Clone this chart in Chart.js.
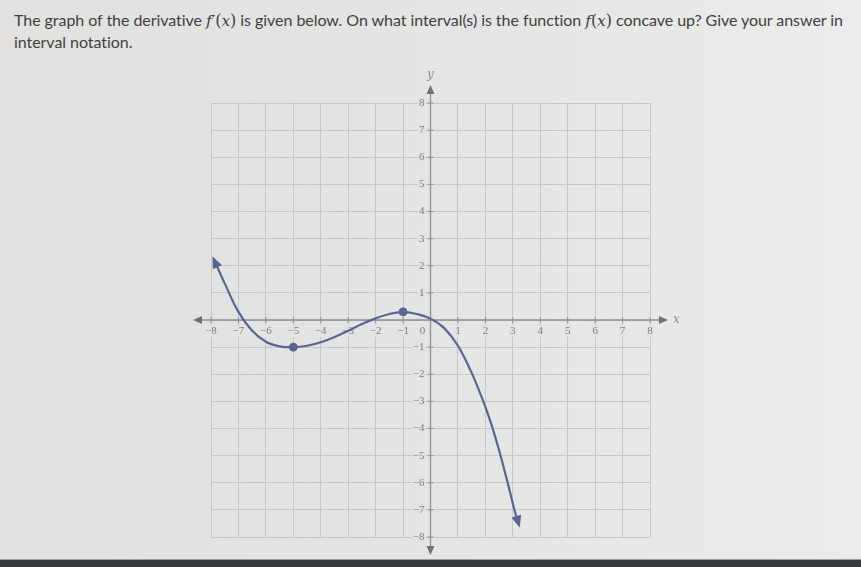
<!DOCTYPE html>
<html><head><meta charset="utf-8">
<script src="https://cdn.jsdelivr.net/npm/chart.js@4.4.1/dist/chart.umd.min.js"></script>
<style>
html,body{margin:0;padding:0;width:861px;height:567px;overflow:hidden;}
body{position:relative;background:linear-gradient(90deg,#e1e2e0 0%,#e4e5e3 40%,#e8e9e7 75%,#ecedeb 100%);font-family:Lato,"Open Sans",sans-serif;}
#q{position:absolute;left:14px;top:10px;width:845px;font-size:16px;line-height:20.5px;color:#3f4042;white-space:nowrap;letter-spacing:-0.05px;}
#q .m{font-family:"DejaVu Serif","Liberation Serif",serif;font-style:italic;font-size:15.5px;}
#q .b{font-family:"DejaVu Serif",serif;font-size:16px;}
#c{position:absolute;left:0;top:0;}
#bar{position:absolute;left:0;bottom:0;width:861px;height:7px;background:#34383c;border-top:1px solid #9a9d9f;}
</style></head>
<body>
<div id="q">The graph of the derivative <span class="m">f′</span><span class="b">(</span><span class="m">x</span><span class="b">)</span> is given below. On what interval(s) is the function <span class="m">f</span><span class="b">(</span><span class="m">x</span><span class="b">)</span> concave up? Give your answer in<br>interval notation.</div>
<canvas id="c" width="861" height="567"></canvas>
<div id="bar"></div>
<script>
// Curve of f'(x)
const curveX = [-7.9,-7.5,-7,-6.5,-6,-5.5,-5,-4.5,-4,-3.5,-3,-2.5,-2,-1.5,-1,-0.5,0,0.5,1,1.5,1.75,2,2.25,2.5,2.8,3.06,3.22];
const curveY = [2.25,1.35,0.3,-0.4,-0.8,-0.97,-1,-0.95,-0.82,-0.63,-0.4,-0.15,0.06,0.22,0.3,0.22,0.05,-0.3,-0.95,-1.95,-2.55,-3.2,-3.95,-4.8,-5.95,-7.0,-7.55];
// marked points (local extrema of f')
const markX = [-5,-1];
const markY = [-1,0.3];
// axis tick labels
const xTicks = [-8,-7,-6,-5,-4,-3,-2,-1,0,1,2,3,4,5,6,7,8];
const yTicks = [8,7,6,5,4,3,2,1,-1,-2,-3,-4,-5,-6,-7,-8];
const axisMin = -8, axisMax = 8;

const CURVE = '#5a6594';
const AXIS = '#8c9095';
const GRID = '#c4c7cb';
const LABEL = '#7b7e82';
const BG = '#e4e5e3';

function fmt(v){ return v < 0 ? '\u2212' + Math.abs(v) : String(v); }

const decor = {
  id: 'decor',
  beforeDatasetsDraw(chart) {
    const ctx = chart.ctx, xs = chart.scales.x, ys = chart.scales.y;
    const x0 = xs.getPixelForValue(0), y0 = ys.getPixelForValue(0);
    const L = xs.getPixelForValue(axisMin), R = xs.getPixelForValue(axisMax);
    const T = ys.getPixelForValue(axisMax), B = ys.getPixelForValue(axisMin);
    ctx.save();
    ctx.strokeStyle = AXIS; ctx.lineWidth = 1.3;
    ctx.beginPath();
    ctx.moveTo(L - 12, y0); ctx.lineTo(R + 12, y0);
    ctx.moveTo(x0, T - 12); ctx.lineTo(x0, B + 12);
    ctx.stroke();
    ctx.fillStyle = '#6f7378';
    const tri = (tx, ty, ang) => {
      ctx.save(); ctx.translate(tx, ty); ctx.rotate(ang);
      ctx.beginPath(); ctx.moveTo(0,0); ctx.lineTo(-9,-4); ctx.lineTo(-9,4); ctx.closePath(); ctx.fill();
      ctx.restore();
    };
    tri(R + 18, y0, 0); tri(L - 18, y0, Math.PI);
    tri(x0, T - 18, -Math.PI/2); tri(x0, B + 18, Math.PI/2);
    ctx.fillStyle = '#8a8d91';
    ctx.font = 'italic 12px "DejaVu Serif", serif';
    ctx.textAlign = 'left'; ctx.textBaseline = 'middle';
    ctx.fillText('x', R + 23, y0);
    ctx.textAlign = 'center'; ctx.textBaseline = 'bottom';
    ctx.fillText('y', x0, T - 22);
    ctx.font = '11px "Liberation Serif", "DejaVu Serif", serif';
    ctx.strokeStyle = AXIS; ctx.lineWidth = 1;
    xTicks.forEach(v => {
      const px = xs.getPixelForValue(v);
      if (v !== 0) { ctx.beginPath(); ctx.moveTo(px, y0 - 3); ctx.lineTo(px, y0 + 3); ctx.stroke(); }
      const t = fmt(v);
      const w = ctx.measureText(t).width;
      const cx = v === 0 ? x0 - 8 : px;
      ctx.fillStyle = BG; ctx.fillRect(cx - w/2 - 1, y0 + 5, w + 2, 12);
      ctx.fillStyle = LABEL; ctx.textAlign = 'center'; ctx.textBaseline = 'top';
      ctx.fillText(t, cx, y0 + 6);
    });
    yTicks.forEach(v => {
      const py = ys.getPixelForValue(v);
      ctx.beginPath(); ctx.moveTo(x0 - 3, py); ctx.lineTo(x0 + 3, py); ctx.stroke();
      const t = fmt(v);
      const w = ctx.measureText(t).width;
      ctx.fillStyle = BG; ctx.fillRect(x0 - 6 - w - 1, py - 6, w + 2, 12);
      ctx.fillStyle = LABEL; ctx.textAlign = 'right'; ctx.textBaseline = 'middle';
      ctx.fillText(t, x0 - 6, py);
    });
    ctx.restore();
  },
  afterDatasetsDraw(chart) {
    const ctx = chart.ctx, xs = chart.scales.x, ys = chart.scales.y;
    const n = curveX.length;
    const ends = [[0,1],[n-1,n-2]];
    ctx.save();
    ctx.fillStyle = CURVE;
    ends.forEach(([a,b]) => {
      const ax = xs.getPixelForValue(curveX[a]), ay = ys.getPixelForValue(curveY[a]);
      const bx = xs.getPixelForValue(curveX[b]), by = ys.getPixelForValue(curveY[b]);
      const ang = Math.atan2(ay - by, ax - bx);
      ctx.save(); ctx.translate(ax, ay); ctx.rotate(ang);
      ctx.beginPath(); ctx.moveTo(3,0); ctx.lineTo(-9,-5); ctx.lineTo(-9,5); ctx.closePath(); ctx.fill();
      ctx.restore();
    });
    ctx.restore();
  }
};

new Chart(document.getElementById('c'), {
  type: 'scatter',
  data: {
    datasets: [
      {
        data: curveX.map((x,i) => ({x, y: curveY[i]})),
        showLine: true,
        borderColor: CURVE,
        borderWidth: 2.2,
        pointRadius: 0,
        tension: 0.4,
        order: 2
      },
      {
        data: markX.map((x,i) => ({x, y: markY[i]})),
        pointRadius: 4,
        pointBackgroundColor: CURVE,
        pointBorderColor: CURVE,
        showLine: false,
        order: 1
      }
    ]
  },
  options: {
    responsive: false,
    animation: false,
    events: [],
    layout: { padding: { left: 211, right: 211, top: 103, bottom: 30 } },
    plugins: { legend: { display: false }, tooltip: { enabled: false } },
    scales: {
      x: {
        type: 'linear', min: axisMin, max: axisMax,
        position: { y: 0 },
        afterFit: s => { s.height = 0; },
        ticks: { display: false, stepSize: 1 },
        grid: { color: GRID, lineWidth: 1, drawTicks: false },
        border: { display: false }
      },
      y: {
        type: 'linear', min: axisMin, max: axisMax,
        position: { x: 0 },
        afterFit: s => { s.width = 0; },
        ticks: { display: false, stepSize: 1 },
        grid: { color: GRID, lineWidth: 1, drawTicks: false },
        border: { display: false }
      }
    }
  },
  plugins: [decor]
});
</script>
</body></html>
